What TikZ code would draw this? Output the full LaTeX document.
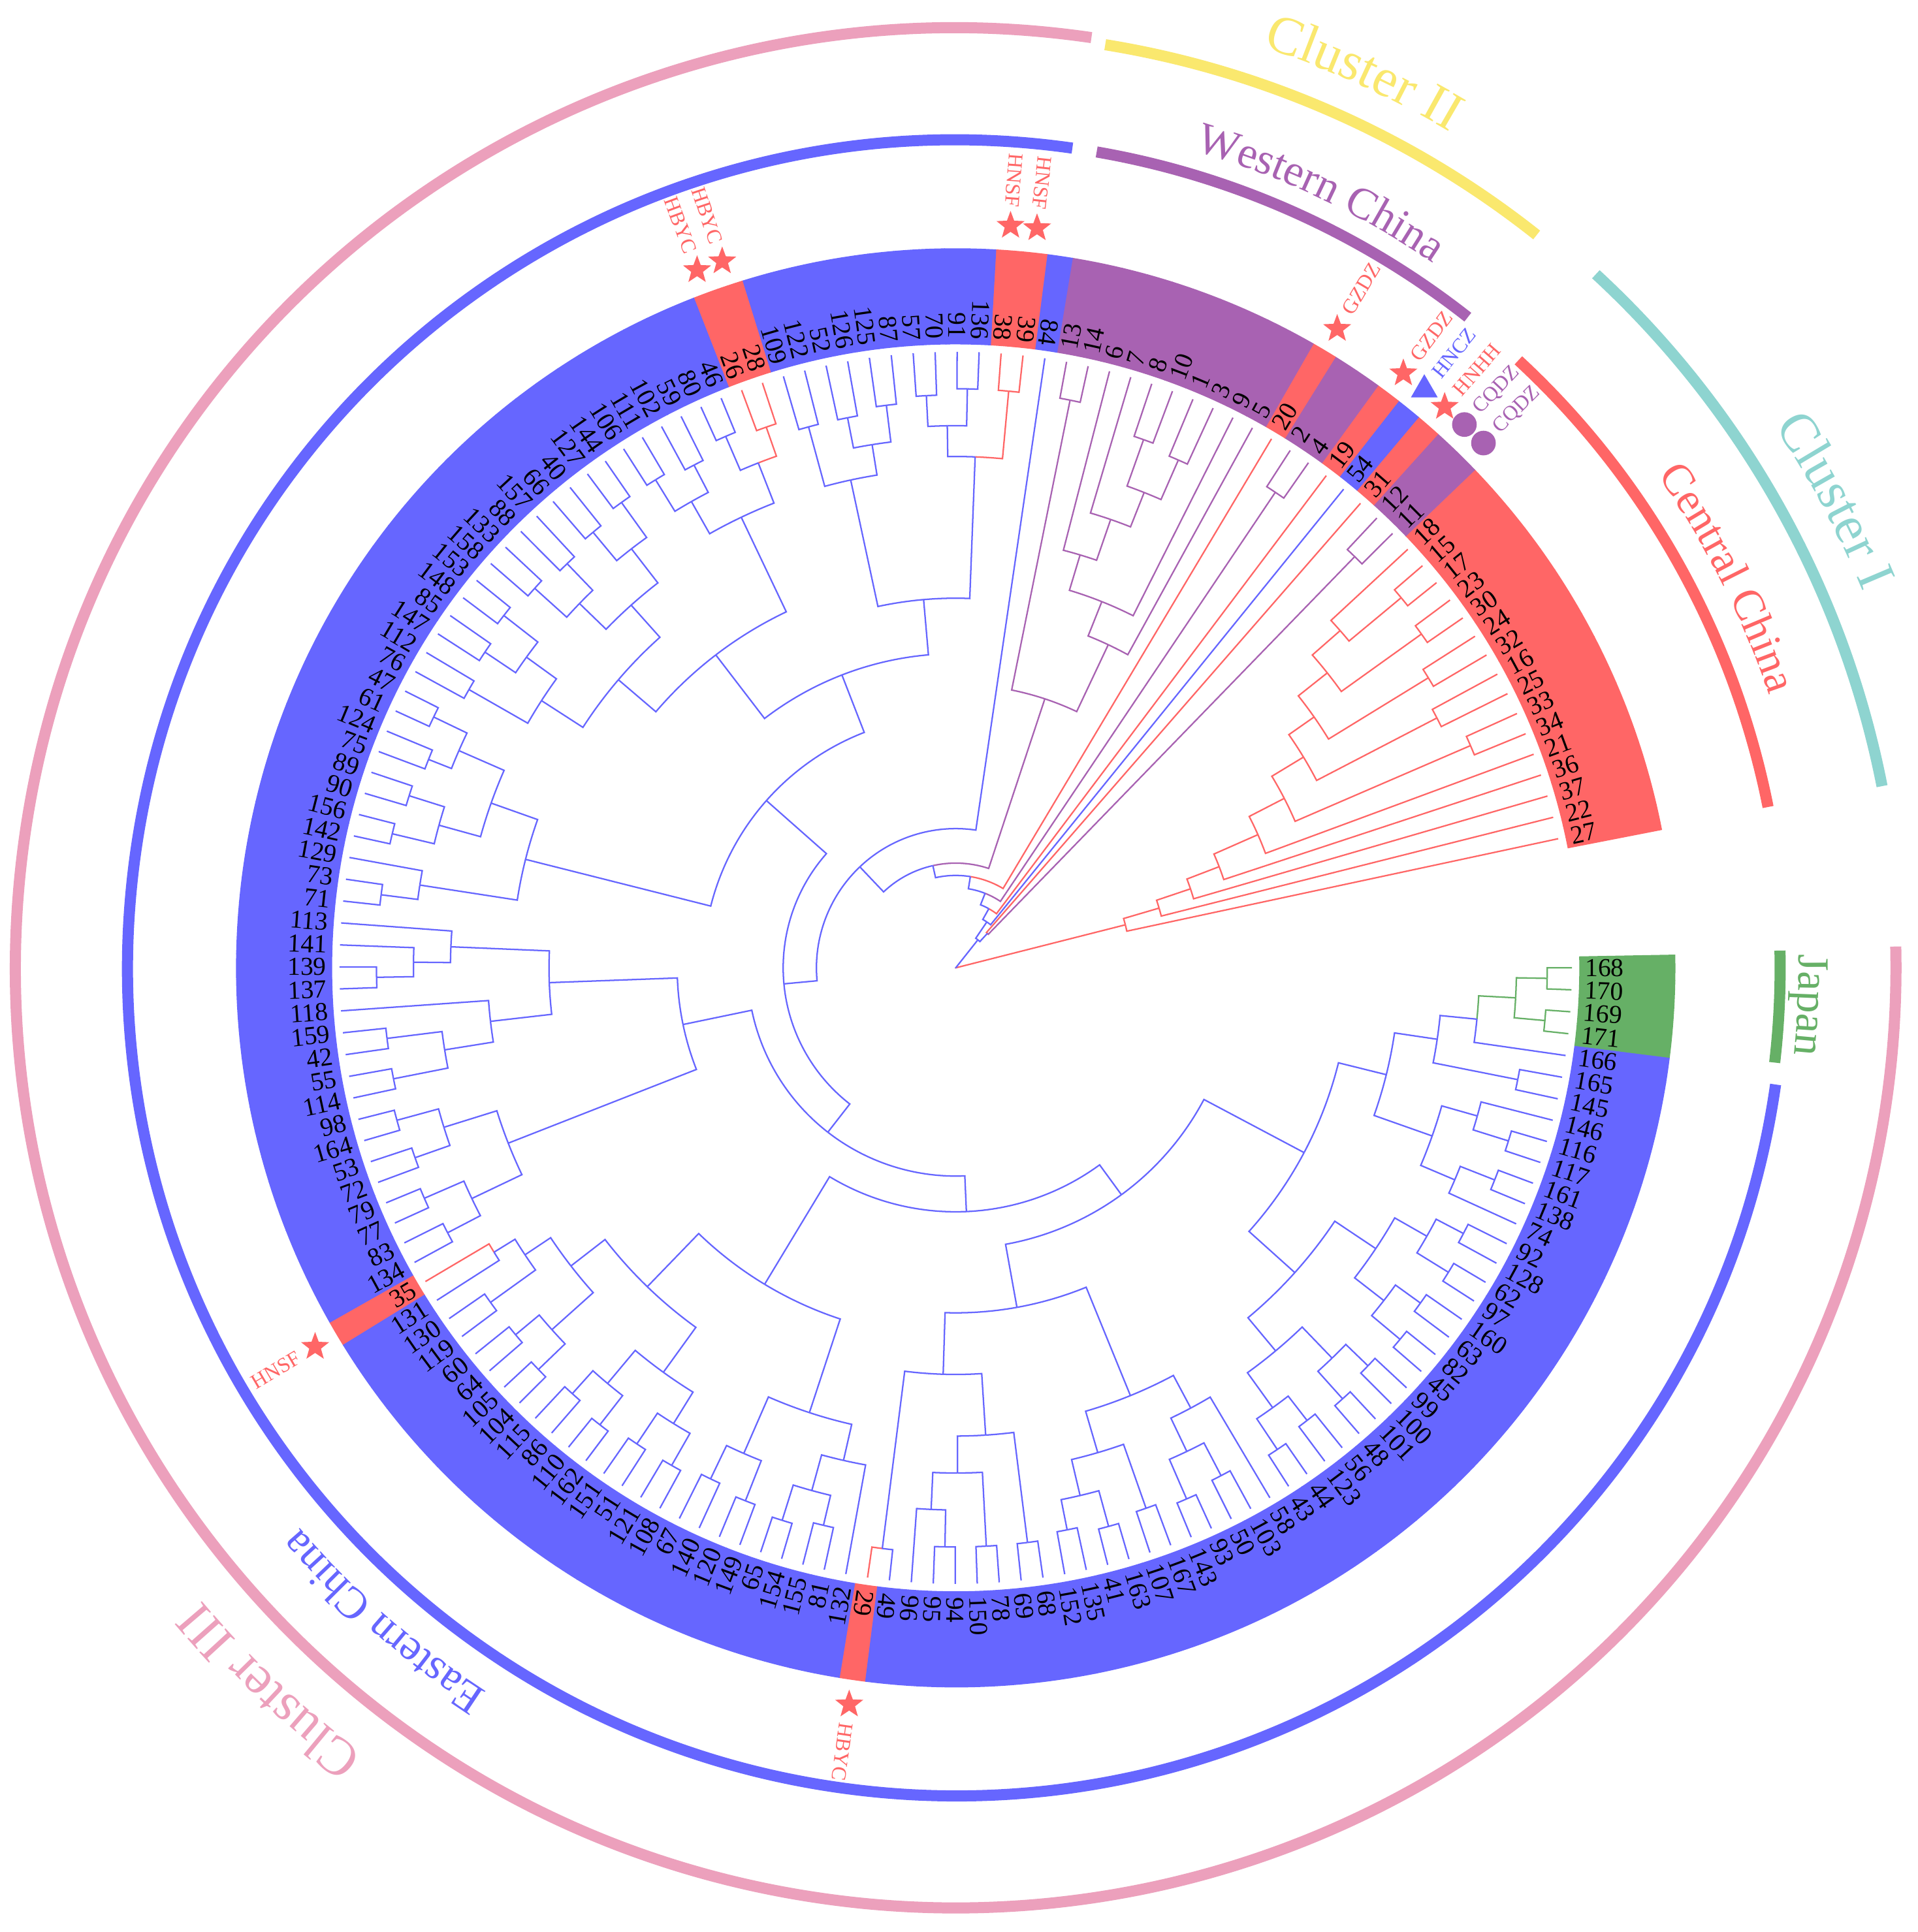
\documentclass[tikz,border=0pt]{standalone}
\usepackage{fontspec}
\setmainfont{Liberation Serif}
\usetikzlibrary{shapes.geometric, decorations.text}

\definecolor{cred}{RGB}{255,102,102}
\definecolor{cblue}{RGB}{102,102,255}
\definecolor{cpurple}{RGB}{168,98,178}
\definecolor{cgreen}{RGB}{102,176,102}
\definecolor{cpink}{RGB}{236,160,188}
\definecolor{cyellow}{RGB}{250,232,110}
\definecolor{cteal}{RGB}{142,212,208}

\newcommand\bigfont{\fontsize{44}{44}\selectfont}
\newcommand\midfont{\fontsize{36}{36}\selectfont}

% join clade #1..#2 with clade #2+1..#3 at radius #4
\newcommand\clade[4]{%
  \edef\radA{\csname r@#1@#2\endcsname}%
  \edef\angA{\csname a@#1@#2\endcsname}%
  \edef\colA{\csname c@#1@#2\endcsname}%
  \edef\nxt{\the\numexpr#2+1\relax}%
  \edef\radB{\csname r@\nxt @#3\endcsname}%
  \edef\angB{\csname a@\nxt @#3\endcsname}%
  \edef\colB{\csname c@\nxt @#3\endcsname}%
  \pgfmathsetmacro\angM{(\angA+\angB)/2}%
  \ifx\colA\colB\let\colM\colA\else\def\colM{cblue}\fi
  \draw[twig, \colA] (\angA:\radA pt) -- (\angA:#4pt) arc[start angle=\angA, end angle=\angM, radius=#4pt];
  \draw[twig, \colB] (\angB:\radB pt) -- (\angB:#4pt) arc[start angle=\angB, end angle=\angM, radius=#4pt];
  \expandafter\xdef\csname a@#1@#3\endcsname{\angM}%
  \expandafter\xdef\csname r@#1@#3\endcsname{#4}%
  \expandafter\xdef\csname c@#1@#3\endcsname{\colM}%
}

\begin{document}
\begin{tikzpicture}[x=1pt, y=1pt,
    twig/.style={line width=1.2pt},
    leaflabel/.style={font=\fontsize{21}{21}\selectfont, inner sep=0.5pt},
    tagtext/.style={font=\fontsize{17}{17}\selectfont, inner sep=0pt},
    mstar/.style={star, star points=5, star point ratio=2.4, minimum size=24pt, inner sep=0pt},
    mtri/.style={regular polygon, regular polygon sides=3, minimum size=25pt, inner sep=0pt},
    mdot/.style={circle, minimum size=20pt, inner sep=0pt},
    ring/.style={line width=9pt}
    ]

    \fill[white] (-775.5,-782.5) rectangle (780.5,785.5);
    \useasboundingbox (-775.5,-782.5) rectangle (780.5,785.5);

    % leaves, counterclockwise from 27
    \foreach \lab [count=\idx from 0] in {27,22,37,36,21,34,33,25,16,32,24,30,23,17,15,18,
        11,12,31,54,19,4,2,20,5,9,3,1,10,8,7,6,14,13,
        84,39,38,136,91,70,57,87,125,126,52,122,109,
        28,26,46,80,59,102,111,106,144,127,40,66,157,88,133,158,153,148,85,147,112,76,
        47,61,124,75,89,90,156,142,129,73,71,
        113,141,139,137,118,159,42,55,114,
        98,164,53,72,79,77,83,134,
        35,131,130,119,60,64,105,104,115,86,110,162,151,51,121,108,67,140,120,149,65,154,155,81,132,
        29,49,96,95,94,150,78,69,68,152,135,41,163,107,167,143,93,50,103,58,
        43,44,123,56,48,101,100,99,45,82,63,160,97,62,128,92,74,138,161,117,116,146,145,165,166,
        171,169,170,168} {
      \pgfmathsetmacro\ang{12.1+2.0465*\idx}
      \expandafter\xdef\csname a@\idx @\idx\endcsname{\ang}
      \expandafter\xdef\csname r@\idx @\idx\endcsname{500}
      \expandafter\xdef\csname c@\idx @\idx\endcsname{cblue}
      \expandafter\xdef\csname t@\idx\endcsname{\lab}
    }
    \foreach \idx in {0,1,2,3,4,5,6,7,8,9,10,11,12,13,14,15,18,20,23,35,36,47,48,97,122}
      {\expandafter\xdef\csname c@\idx @\idx\endcsname{cred}}
    \foreach \idx in {16,17,21,22,24,25,26,27,28,29,30,31,32,33}
      {\expandafter\xdef\csname c@\idx @\idx\endcsname{cpurple}}
    \foreach \idx in {167,168,169,170}
      {\expandafter\xdef\csname c@\idx @\idx\endcsname{cgreen}}

    % coloured band and labels
    \foreach \idx in {0,...,170} {
      \pgfmathsetmacro\ang{12.1+2.0465*\idx}
      \pgfmathsetmacro\angL{\ang-1.05}
      \pgfmathsetmacro\angR{\ang+1.05}
      \edef\col{\csname c@\idx @\idx\endcsname}
      \fill[\col] (\angL:506pt) arc[start angle=\angL, end angle=\angR, radius=506pt]
        -- (\angR:584pt) arc[start angle=\angR, end angle=\angL, radius=584pt] -- cycle;
      \ifnum\idx<34 \def\anc{west}\let\rot\ang
      \else\ifnum\idx>121 \def\anc{west}\let\rot\ang
      \else\def\anc{east}\pgfmathsetmacro\rot{\ang-180}\fi\fi
      \node[leaflabel, anchor=\anc, rotate=\rot] (l\idx) at (\ang:510pt) {\csname t@\idx\endcsname};
    }

    % Central China
    \clade{5}{5}{6}{455} \clade{7}{7}{8}{440} \clade{9}{9}{10}{450} \clade{11}{11}{12}{465}
    \clade{13}{13}{14}{470} \clade{13}{14}{15}{415} \clade{11}{12}{15}{385} \clade{9}{10}{15}{355}
    \clade{7}{8}{15}{330} \clade{5}{6}{15}{300} \clade{4}{4}{15}{268} \clade{3}{3}{15}{229}
    \clade{2}{2}{15}{201} \clade{1}{1}{15}{172} \clade{0}{0}{15}{142}
    % Western China and the lone lineages
    \clade{16}{16}{17}{465} \clade{16}{17}{18}{38} \clade{21}{21}{22}{465}
    \clade{32}{32}{33}{470} \clade{28}{28}{29}{455} \clade{26}{26}{27}{450} \clade{26}{27}{29}{415}
    \clade{26}{29}{30}{385} \clade{26}{30}{31}{350} \clade{25}{25}{31}{320} \clade{24}{24}{31}{290}
    \clade{24}{31}{33}{230}
    % top group
    \clade{35}{35}{36}{470} \clade{37}{37}{38}{470} \clade{39}{39}{40}{465} \clade{37}{38}{40}{440}
    \clade{35}{36}{40}{415} \clade{41}{41}{42}{460} \clade{43}{43}{44}{455} \clade{41}{42}{44}{430}
    \clade{45}{45}{46}{455} \clade{41}{44}{46}{405} \clade{35}{40}{46}{300}
    % upper left
    \clade{47}{47}{48}{465} \clade{49}{49}{50}{470} \clade{47}{48}{50}{440} \clade{51}{51}{52}{460}
    \clade{53}{53}{54}{465} \clade{51}{52}{54}{435} \clade{47}{50}{54}{405} \clade{55}{55}{56}{465}
    \clade{57}{57}{58}{460} \clade{55}{56}{58}{430} \clade{59}{59}{60}{455} \clade{61}{61}{62}{460}
    \clade{59}{60}{62}{425} \clade{55}{58}{62}{395} \clade{63}{63}{64}{465} \clade{65}{65}{66}{460}
    \clade{63}{64}{66}{430} \clade{67}{67}{68}{455} \clade{63}{66}{68}{400} \clade{55}{62}{68}{360}
    \clade{47}{54}{68}{320}
    \clade{69}{69}{70}{470} \clade{71}{71}{72}{460} \clade{69}{70}{72}{440} \clade{73}{73}{74}{465}
    \clade{75}{75}{76}{470} \clade{73}{74}{76}{435} \clade{69}{72}{76}{400} \clade{78}{78}{79}{470}
    \clade{77}{77}{79}{440} \clade{69}{76}{79}{360}
    % left
    \clade{82}{82}{83}{470} \clade{81}{81}{83}{440} \clade{80}{80}{83}{410} \clade{85}{85}{86}{465}
    \clade{87}{87}{88}{465} \clade{85}{86}{88}{420} \clade{84}{84}{88}{380} \clade{80}{83}{88}{330}
    \clade{89}{89}{90}{470} \clade{91}{91}{92}{465} \clade{89}{90}{92}{435} \clade{93}{93}{94}{470}
    \clade{95}{95}{96}{465} \clade{93}{94}{96}{435} \clade{89}{92}{96}{390}
    % lower left
    \clade{97}{97}{98}{440} \clade{99}{99}{100}{465} \clade{97}{98}{100}{420} \clade{101}{101}{102}{465}
    \clade{103}{103}{104}{470} \clade{101}{102}{104}{440} \clade{97}{100}{104}{395} \clade{105}{105}{106}{465}
    \clade{107}{107}{108}{470} \clade{105}{106}{108}{440} \clade{109}{109}{110}{465} \clade{111}{111}{112}{465}
    \clade{109}{110}{112}{435} \clade{105}{108}{112}{405} \clade{97}{104}{112}{360} \clade{113}{113}{114}{460}
    \clade{115}{115}{116}{465} \clade{113}{114}{116}{430} \clade{117}{117}{118}{470} \clade{119}{119}{120}{465}
    \clade{117}{118}{120}{440} \clade{117}{120}{121}{410} \clade{113}{116}{121}{380} \clade{97}{112}{121}{300}
    % bottom
    \clade{122}{122}{123}{475} \clade{125}{125}{126}{470} \clade{124}{124}{126}{440} \clade{127}{127}{128}{470}
    \clade{124}{126}{128}{410} \clade{129}{129}{130}{470} \clade{124}{128}{130}{380} \clade{122}{123}{130}{330}
    \clade{131}{131}{132}{465} \clade{133}{133}{134}{470} \clade{131}{132}{134}{440} \clade{135}{135}{136}{465}
    \clade{131}{134}{136}{410} \clade{137}{137}{138}{470} \clade{139}{139}{140}{465} \clade{137}{138}{140}{435}
    \clade{137}{140}{141}{405} \clade{131}{136}{141}{375} \clade{122}{130}{141}{280}
    % lower right and Japan
    \clade{142}{142}{143}{470} \clade{144}{144}{145}{465} \clade{142}{143}{145}{440} \clade{146}{146}{147}{470}
    \clade{148}{148}{149}{465} \clade{146}{147}{149}{440} \clade{142}{145}{149}{405} \clade{150}{150}{151}{470}
    \clade{152}{152}{153}{465} \clade{150}{151}{153}{440} \clade{154}{154}{155}{470} \clade{156}{156}{157}{465}
    \clade{154}{155}{157}{440} \clade{150}{153}{157}{410} \clade{142}{149}{157}{370}
    \clade{159}{159}{160}{470} \clade{158}{158}{160}{440} \clade{161}{161}{162}{470} \clade{161}{162}{163}{440}
    \clade{158}{160}{163}{410} \clade{164}{164}{165}{465} \clade{167}{167}{168}{480} \clade{169}{169}{170}{480}
    \clade{167}{168}{170}{455} \clade{166}{166}{170}{425} \clade{164}{165}{170}{395} \clade{158}{163}{170}{360}
    \clade{142}{157}{170}{320}
    % backbone
    \clade{35}{46}{68}{255} \clade{35}{68}{79}{205} \clade{80}{88}{96}{226} \clade{122}{141}{170}{228}
    \clade{97}{121}{170}{198} \clade{80}{96}{170}{169} \clade{35}{79}{170}{140} \clade{34}{34}{170}{113}
    \clade{24}{33}{170}{85} \clade{23}{23}{170}{75} \clade{21}{22}{170}{65} \clade{20}{20}{170}{55}
    \clade{19}{19}{170}{45} \clade{16}{18}{170}{29} \clade{0}{15}{170}{0.01}

    % sample markers
    \foreach \idx/\shp/\mtext/\mcol in {48/mstar/HBYC/cred, 47/mstar/HBYC/cred, 36/mstar/HNSF/cred,
        35/mstar/HNSF/cred, 97/mstar/HNSF/cred, 122/mstar/HBYC/cred, 23/mstar/GZDZ/cred,
        20/mstar/GZDZ/cred, 19/mtri/HNCZ/cblue, 18/mstar/HNHH/cred, 17/mdot/CQDZ/cpurple,
        16/mdot/CQDZ/cpurple} {
      \pgfmathsetmacro\ang{12.1+2.0465*\idx}
      \node[\shp, fill=\mcol] (m\idx) at (\ang:604pt) {};
      \ifnum\idx<34 \def\anc{west}\let\rot\ang
      \else\ifnum\idx>121 \def\anc{west}\let\rot\ang
      \else\def\anc{east}\pgfmathsetmacro\rot{\ang-180}\fi\fi
      \node[tagtext, text=\mcol, anchor=\anc, rotate=\rot] (t\idx) at (\ang:619pt) {\mtext};
    }

    % region and cluster rings
    \draw[ring, cblue] (81.9:672pt) arc[start angle=81.9, end angle=351.9, radius=672pt];
    \draw[ring, cpurple] (80.2:672pt) arc[start angle=80.2, end angle=51.8, radius=672pt];
    \draw[ring, cred] (47.2:672pt) arc[start angle=47.2, end angle=11.2, radius=672pt];
    \draw[ring, cgreen] (1.2:669pt) arc[start angle=1.2, end angle=-6.6, radius=669pt];
    \draw[ring, cpink] (81.7:763pt) arc[start angle=81.7, end angle=361.3, radius=763pt];
    \draw[ring, cyellow] (80.8:759pt) arc[start angle=80.8, end angle=51.6, radius=759pt];
    \draw[ring, cteal] (47.3:766pt) arc[start angle=47.3, end angle=11.1, radius=766pt];

    \path[decorate, decoration={text along path, text align=center,
        text={|\bigfont\color{cyellow}|Cluster II}}]
      (85.5:788pt) arc[start angle=85.5, end angle=45.5, radius=788pt];
    \path[decorate, decoration={text along path, text align=center,
        text={|\midfont\color{cpurple}|Western China}}]
      (84.8:691pt) arc[start angle=84.8, end angle=44.8, radius=691pt];
    \path[decorate, decoration={text along path, text align=center,
        text={|\bigfont\color{cteal}|Cluster I}}]
      (48:797pt) arc[start angle=48, end angle=8, radius=797pt];
    \path[decorate, decoration={text along path, text align=center,
        text={|\midfont\color{cred}|Central China}}]
      (46.8:696pt) arc[start angle=46.8, end angle=6.8, radius=696pt];
    \path[decorate, decoration={text along path, text align=center,
        text={|\midfont\color{cgreen}|Japan}}]
      (17.5:684pt) arc[start angle=17.5, end angle=-22.5, radius=684pt];
    \path[decorate, decoration={text along path, text align=center,
        text={|\midfont\color{cblue}|Eastern China}}]
      (248.8:700pt) arc[start angle=248.8, end angle=208.8, radius=700pt];
    \path[decorate, decoration={text along path, text align=center,
        text={|\bigfont\color{cpink}|Cluster III}}]
      (246.5:799pt) arc[start angle=246.5, end angle=206.5, radius=799pt];

\end{tikzpicture}
\end{document}
